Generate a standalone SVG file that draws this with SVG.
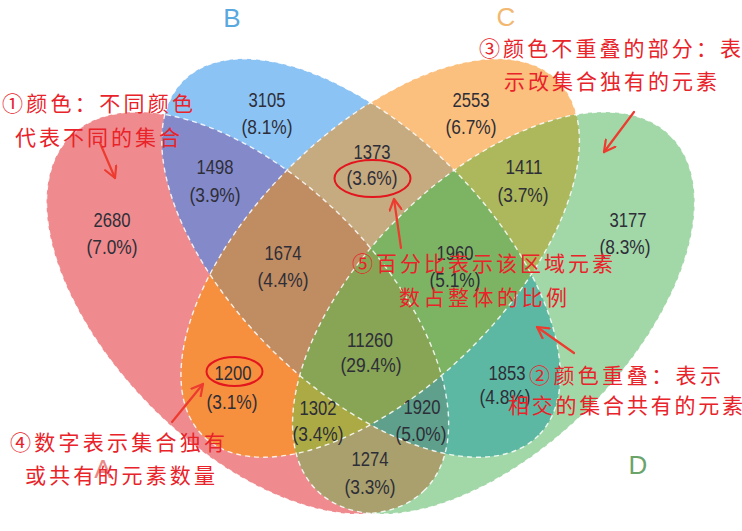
<svg xmlns="http://www.w3.org/2000/svg" xmlns:xlink="http://www.w3.org/1999/xlink" width="742" height="531" viewBox="0 0 742 531">
<style>
.num{font-family:"Liberation Sans",Arial,sans-serif;font-size:20px;fill:#2E2E38;text-anchor:middle}
.ann{font-family:"Noto Sans CJK SC","Noto Sans CJK JP",sans-serif;font-size:21px;fill:#E8232A}
.setlbl{font-family:"Liberation Sans",Arial,sans-serif;font-size:26px;text-anchor:middle}
.outline{fill:none;stroke:#FFFFFF;stroke-opacity:0.85;stroke-width:1.4;stroke-dasharray:5 4}
.arrow{fill:none;stroke:#EE3B2F;stroke-width:2.2;stroke-linecap:round}
.ring{fill:none;stroke:#E3161E;stroke-width:2}
</style>
<defs>
<ellipse id="eA" cx="247.6" cy="313" rx="250.4" ry="134.7" transform="rotate(45 247.6 313)"/>
<ellipse id="eB" cx="361" cy="258" rx="251" ry="128" transform="rotate(45 361 258)"/>
<ellipse id="eC" cx="380.2" cy="258" rx="251" ry="128" transform="rotate(-45 380.2 258)"/>
<ellipse id="eD" cx="493.6" cy="313" rx="250.4" ry="134.7" transform="rotate(-45 493.6 313)"/>
<clipPath id="cA"><ellipse cx="247.6" cy="313" rx="250.4" ry="134.7" transform="rotate(45 247.6 313)"/></clipPath>
<clipPath id="cB"><ellipse cx="361" cy="258" rx="251" ry="128" transform="rotate(45 361 258)"/></clipPath>
<clipPath id="cC"><ellipse cx="380.2" cy="258" rx="251" ry="128" transform="rotate(-45 380.2 258)"/></clipPath>
<clipPath id="cD"><ellipse cx="493.6" cy="313" rx="250.4" ry="134.7" transform="rotate(-45 493.6 313)"/></clipPath>
<marker id="ah" viewBox="0 0 14 14" refX="12" refY="7" markerWidth="14" markerHeight="14" markerUnits="userSpaceOnUse" orient="auto">
<path d="M1,1 L12,7 L1,13" fill="none" stroke="#EE3B2F" stroke-width="2.2" stroke-linecap="round" stroke-linejoin="round"/>
</marker>
</defs>
<rect width="742" height="531" fill="#FFFFFF"/>
<g id="regions">
<use xlink:href="#eA" href="#eA" fill="#EF8B8E"/>
<use xlink:href="#eB" href="#eB" fill="#8CC3F5"/>
<use xlink:href="#eC" href="#eC" fill="#FCC07E"/>
<use xlink:href="#eD" href="#eD" fill="#A2D7A8"/>
<g clip-path="url(#cB)"><use href="#eA" fill="#8489C9"/></g>
<g clip-path="url(#cC)"><use href="#eA" fill="#F6903F"/></g>
<g clip-path="url(#cD)"><use href="#eA" fill="#A9A06E"/></g>
<g clip-path="url(#cC)"><use href="#eB" fill="#C6AA80"/></g>
<g clip-path="url(#cD)"><use href="#eB" fill="#5DB8A3"/></g>
<g clip-path="url(#cD)"><use href="#eC" fill="#ADB85C"/></g>
<g clip-path="url(#cC)"><g clip-path="url(#cB)"><use href="#eA" fill="#C08C62"/></g></g>
<g clip-path="url(#cD)"><g clip-path="url(#cB)"><use href="#eA" fill="#5FA08C"/></g></g>
<g clip-path="url(#cD)"><g clip-path="url(#cC)"><use href="#eA" fill="#ABAA45"/></g></g>
<g clip-path="url(#cD)"><g clip-path="url(#cC)"><use href="#eB" fill="#7DB464"/></g></g>
<g clip-path="url(#cD)"><g clip-path="url(#cC)"><g clip-path="url(#cB)"><use href="#eA" fill="#87A555"/></g></g></g>
</g>
<g id="set-A"><use href="#eA" class="outline"/><text class="setlbl" x="103" y="478" fill="#E88A8A">A</text></g>
<g id="set-B"><use href="#eB" class="outline"/><text class="setlbl" x="232" y="27" fill="#5AA8E0">B</text></g>
<g id="set-C"><use href="#eC" class="outline"/><text class="setlbl" x="506" y="26" fill="#F2B870">C</text></g>
<g id="set-D"><use href="#eD" class="outline"/><text class="setlbl" x="638" y="474" fill="#6AA46A">D</text></g>
<g id="counts">
<text class="num" x="267" y="107" textLength="37" lengthAdjust="spacingAndGlyphs">3105</text>
<text class="num" x="267" y="134" textLength="51" lengthAdjust="spacingAndGlyphs">(8.1%)</text>
<text class="num" x="215" y="174" textLength="37" lengthAdjust="spacingAndGlyphs">1498</text>
<text class="num" x="215" y="202" textLength="51" lengthAdjust="spacingAndGlyphs">(3.9%)</text>
<text class="num" x="112" y="227" textLength="37" lengthAdjust="spacingAndGlyphs">2680</text>
<text class="num" x="112" y="254" textLength="51" lengthAdjust="spacingAndGlyphs">(7.0%)</text>
<text class="num" x="283" y="260" textLength="37" lengthAdjust="spacingAndGlyphs">1674</text>
<text class="num" x="283" y="287" textLength="51" lengthAdjust="spacingAndGlyphs">(4.4%)</text>
<text class="num" x="372" y="159" textLength="37" lengthAdjust="spacingAndGlyphs">1373</text>
<text class="num" x="372" y="185" textLength="51" lengthAdjust="spacingAndGlyphs">(3.6%)</text>
<text class="num" x="471" y="107" textLength="37" lengthAdjust="spacingAndGlyphs">2553</text>
<text class="num" x="471" y="134" textLength="51" lengthAdjust="spacingAndGlyphs">(6.7%)</text>
<text class="num" x="524" y="174" textLength="37" lengthAdjust="spacingAndGlyphs">1411</text>
<text class="num" x="523" y="202" textLength="51" lengthAdjust="spacingAndGlyphs">(3.7%)</text>
<text class="num" x="628" y="227" textLength="37" lengthAdjust="spacingAndGlyphs">3177</text>
<text class="num" x="625" y="254" textLength="51" lengthAdjust="spacingAndGlyphs">(8.3%)</text>
<text class="num" x="455" y="260" textLength="37" lengthAdjust="spacingAndGlyphs">1960</text>
<text class="num" x="455" y="287" textLength="51" lengthAdjust="spacingAndGlyphs">(5.1%)</text>
<text class="num" x="370" y="347" textLength="46" lengthAdjust="spacingAndGlyphs">11260</text>
<text class="num" x="371" y="372" textLength="61" lengthAdjust="spacingAndGlyphs">(29.4%)</text>
<text class="num" x="233" y="380" textLength="37" lengthAdjust="spacingAndGlyphs">1200</text>
<text class="num" x="232" y="409" textLength="51" lengthAdjust="spacingAndGlyphs">(3.1%)</text>
<text class="num" x="318" y="415" textLength="37" lengthAdjust="spacingAndGlyphs">1302</text>
<text class="num" x="318" y="441" textLength="51" lengthAdjust="spacingAndGlyphs">(3.4%)</text>
<text class="num" x="370" y="466" textLength="37" lengthAdjust="spacingAndGlyphs">1274</text>
<text class="num" x="370" y="494" textLength="51" lengthAdjust="spacingAndGlyphs">(3.3%)</text>
<text class="num" x="422" y="414" textLength="37" lengthAdjust="spacingAndGlyphs">1920</text>
<text class="num" x="421" y="441" textLength="51" lengthAdjust="spacingAndGlyphs">(5.0%)</text>
<text class="num" x="507" y="380" textLength="37" lengthAdjust="spacingAndGlyphs">1853</text>
<text class="num" x="505" y="404" textLength="51" lengthAdjust="spacingAndGlyphs">(4.8%)</text>
</g>
<g id="highlights">
<ellipse class="ring" cx="372.5" cy="178.5" rx="38" ry="18.5"/>
<ellipse class="ring" cx="234.5" cy="371.5" rx="28" ry="14.5"/>
</g>
<g id="connectors">
<line class="arrow" x1="100" y1="143" x2="115" y2="178" marker-end="url(#ah)"/>
<line class="arrow" x1="634" y1="112" x2="604" y2="152" marker-end="url(#ah)"/>
<line class="arrow" x1="401" y1="248" x2="394" y2="199" marker-end="url(#ah)"/>
<line class="arrow" x1="574" y1="353" x2="537" y2="327" marker-end="url(#ah)"/>
<line class="arrow" x1="172" y1="422" x2="203" y2="384" marker-end="url(#ah)"/>
</g>
<g id="annotations">
<text class="ann" x="2" y="111" textLength="191" lengthAdjust="spacing">①颜色：不同颜色</text>
<text class="ann" x="15" y="145" textLength="165" lengthAdjust="spacing">代表不同的集合</text>
<text class="ann" x="479" y="56" textLength="262" lengthAdjust="spacing">③颜色不重叠的部分：表</text>
<text class="ann" x="504" y="89" textLength="213" lengthAdjust="spacing">示改集合独有的元素</text>
<text class="ann" x="352" y="271" textLength="261" lengthAdjust="spacing">⑤百分比表示该区域元素</text>
<text class="ann" x="399" y="305" textLength="168" lengthAdjust="spacing">数占整体的比例</text>
<text class="ann" x="529" y="383" textLength="192" lengthAdjust="spacing">②颜色重叠：表示</text>
<text class="ann" x="508" y="413" textLength="235" lengthAdjust="spacing">相交的集合共有的元素</text>
<text class="ann" x="10" y="450" textLength="215" lengthAdjust="spacing">④数字表示集合独有</text>
<text class="ann" x="25" y="483" textLength="190" lengthAdjust="spacing">或共有的元素数量</text>
</g>
</svg>
